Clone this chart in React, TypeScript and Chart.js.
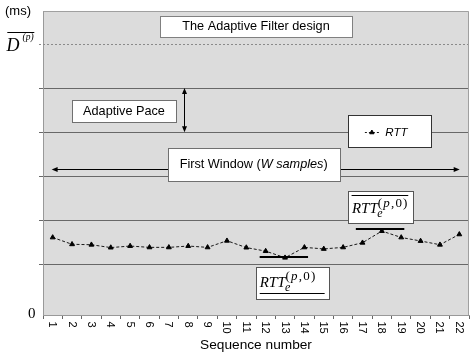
import React, { useEffect, useRef } from 'react';
import { Chart, registerables } from 'chart.js';

Chart.register(...registerables);

// ---------- data ----------
const categories = ['1', '2', '3', '4', '5', '6', '7', '8', '9', '10', '11', '12', '13', '14', '15', '16', '17', '18', '19', '20', '21', '22'];
const rttValues = [17.6, 16.05, 15.95, 15.3, 15.65, 15.35, 15.35, 15.65, 15.35, 16.85, 15.3, 14.5, 13.0, 15.35, 15.0, 15.35, 16.4, 19.05, 17.6, 16.8, 15.95, 18.3];
const gridLevels = [11.5, 21.5, 31.5, 41.5, 51.5];
const dLevel = 61.5;
const yMin = 0;
const yMax = 69;
const seriesName = 'RTT';
const xAxisTitle = 'Sequence number';
const yUnitLabel = '(ms)';
const zeroLabel = '0';
const titleText = 'The Adaptive Filter design';
const paceText = 'Adaptive Pace';
const windowTextRuns = [
  { text: 'First Window (', italic: false },
  { text: 'W samples', italic: true },
  { text: ')', italic: false },
];

// annotation geometry in data coordinates (x: category index, y: value)
const titleBox = { x0: 5.565, x1: 15.434, y0: 63.1, y1: 67.87 };
const paceBox = { x0: 0.991, x1: 6.372, y0: 43.87, y1: 48.8 };
const paceArrow = { x: 6.784, y0: 41.5, y1: 51.5 };
const windowBox = { x0: 5.941, x1: 14.818, y0: 30.41, y1: 37.84 };
const windowArrow = { y: 33.14, x0: -0.053, x1: 21.02 };
const legendBox = { x0: 15.245, x1: 19.562, y0: 38.13, y1: 45.39 };
const upperRttBox = { x0: 15.245, x1: 18.585, y0: 20.95, y1: 28.21 };
const upperSegment = { y: 19.52, x0: 15.656, x1: 18.159 };
const lowerRttBox = { x0: 10.485, x1: 14.288, y0: 3.56, y1: 10.83 };
const lowerSegment = { y: 13.23, x0: 10.69, x1: 13.188 };

const SANS = '"Liberation Sans", Arial, sans-serif';
const SERIF = '"Liberation Serif", "Times New Roman", serif';

function drawBox(ctx: CanvasRenderingContext2D, l: number, t: number, r: number, b: number, stroke: string) {
  const L = Math.round(l) + 0.5, T = Math.round(t) + 0.5, R = Math.round(r) + 0.5, B = Math.round(b) + 0.5;
  ctx.save();
  ctx.fillStyle = '#ffffff';
  ctx.fillRect(L, T, R - L, B - T);
  ctx.strokeStyle = stroke;
  ctx.lineWidth = 1;
  ctx.strokeRect(L, T, R - L, B - T);
  ctx.restore();
}

function arrowHead(ctx: CanvasRenderingContext2D, x: number, y: number, dx: number, dy: number) {
  const len = 6, hw = 2.5;
  const bx = x - dx * len, by = y - dy * len;
  ctx.beginPath();
  ctx.moveTo(x, y);
  ctx.lineTo(bx - dy * hw, by + dx * hw);
  ctx.lineTo(bx + dy * hw, by - dx * hw);
  ctx.closePath();
  ctx.fill();
}

function drawTriangle(ctx: CanvasRenderingContext2D, x: number, y: number, r: number) {
  const third = (Math.PI * 2) / 3;
  let a = 0;
  ctx.beginPath();
  ctx.moveTo(x + Math.sin(a) * r, y - Math.cos(a) * r);
  a += third;
  ctx.lineTo(x + Math.sin(a) * r, y - Math.cos(a) * r);
  a += third;
  ctx.lineTo(x + Math.sin(a) * r, y - Math.cos(a) * r);
  ctx.closePath();
  ctx.fill();
  ctx.stroke();
}

function drawRttLabel(ctx: CanvasRenderingContext2D, x: number, baseline: number) {
  ctx.save();
  ctx.fillStyle = '#000';
  ctx.textAlign = 'left';
  ctx.textBaseline = 'alphabetic';
  ctx.font = `italic 15px ${SERIF}`;
  ctx.fillText('RTT', x, baseline);
  const w = ctx.measureText('RTT').width;
  ctx.font = `italic 12px ${SERIF}`;
  ctx.fillText('e', x + w - 0.5, baseline + 4);
  let sx = x + w;
  const sb = baseline - 6.7;
  const runs = [
    { t: '(', f: `13px ${SERIF}` },
    { t: 'p', f: `italic 13px ${SERIF}` },
    { t: ',', f: `13px ${SERIF}` },
    { t: '0', f: `13px ${SERIF}` },
    { t: ')', f: `13px ${SERIF}` },
  ];
  for (const r of runs) {
    ctx.font = r.f;
    ctx.fillText(r.t, sx, sb);
    sx += ctx.measureText(r.t).width + 1.2;
  }
  ctx.restore();
}

export default function App() {
  const ref = useRef<HTMLCanvasElement>(null);

  useEffect(() => {
    const canvas = ref.current;
    if (!canvas) return;

    const annotations = {
      id: 'annotations',
      beforeDraw(chart: any) {
        const { ctx, chartArea: a } = chart;
        ctx.save();
        ctx.fillStyle = '#dcdcdc';
        ctx.fillRect(a.left, a.top, a.right - a.left, a.bottom - a.top);
        ctx.restore();
      },
      beforeDatasetsDraw(chart: any) {
        const { ctx, chartArea: a, scales } = chart;
        const py = (v: number) => scales.y.getPixelForValue(v);
        ctx.save();
        ctx.strokeStyle = '#8a8a8a';
        ctx.lineWidth = 1;
        ctx.setLineDash([2, 2]);
        const yd = Math.round(py(dLevel)) + 0.5;
        ctx.beginPath();
        ctx.moveTo(a.left - 4, yd);
        ctx.lineTo(a.right, yd);
        ctx.stroke();
        ctx.setLineDash([]);
        ctx.strokeStyle = '#a0a0a0';
        ctx.beginPath();
        ctx.moveTo(Math.round(a.left) + 0.5, Math.round(a.top) + 0.5);
        ctx.lineTo(Math.round(a.right) - 0.5, Math.round(a.top) + 0.5);
        ctx.lineTo(Math.round(a.right) - 0.5, Math.round(a.bottom));
        ctx.stroke();
        ctx.restore();
      },
      afterDatasetsDraw(chart: any) {
        const { ctx, scales } = chart;
        const px = (v: number) => scales.x.getPixelForValue(v);
        const py = (v: number) => scales.y.getPixelForValue(v);
        ctx.save();
        ctx.fillStyle = '#000';
        ctx.strokeStyle = '#000';
        ctx.lineWidth = 1;

        const ax = Math.round(px(paceArrow.x)) + 0.5;
        const ay0 = py(paceArrow.y1), ay1 = py(paceArrow.y0);
        ctx.beginPath();
        ctx.moveTo(ax, ay0 + 3);
        ctx.lineTo(ax, ay1 - 3);
        ctx.stroke();
        arrowHead(ctx, ax, ay0, 0, -1);
        arrowHead(ctx, ax, ay1, 0, 1);

        const wy = Math.round(py(windowArrow.y)) + 0.5;
        const wx0 = px(windowArrow.x0), wx1 = px(windowArrow.x1);
        ctx.beginPath();
        ctx.moveTo(wx0 + 3, wy);
        ctx.lineTo(wx1 - 3, wy);
        ctx.stroke();
        arrowHead(ctx, wx0, wy, -1, 0);
        arrowHead(ctx, wx1, wy, 1, 0);
        ctx.restore();

        const boxPx = (b: any) => ({ l: px(b.x0), r: px(b.x1), t: py(b.y1), b: py(b.y0) });

        const tb = boxPx(titleBox);
        drawBox(ctx, tb.l, tb.t, tb.r, tb.b, '#808080');
        ctx.save();
        ctx.fillStyle = '#000';
        ctx.font = `12.7px ${SANS}`;
        ctx.textAlign = 'center';
        ctx.textBaseline = 'middle';
        ctx.fillText(titleText, (tb.l + tb.r) / 2, (tb.t + tb.b) / 2 + 0.5);
        ctx.restore();

        const pb = boxPx(paceBox);
        drawBox(ctx, pb.l, pb.t, pb.r, pb.b, '#707070');
        ctx.save();
        ctx.fillStyle = '#000';
        ctx.font = `12.7px ${SANS}`;
        ctx.textAlign = 'center';
        ctx.textBaseline = 'middle';
        ctx.fillText(paceText, (pb.l + pb.r) / 2, (pb.t + pb.b) / 2 + 0.5);
        ctx.restore();

        const wb = boxPx(windowBox);
        drawBox(ctx, wb.l, wb.t, wb.r, wb.b, '#707070');
        ctx.save();
        ctx.fillStyle = '#000';
        ctx.textAlign = 'left';
        ctx.textBaseline = 'middle';
        let total = 0;
        for (const r of windowTextRuns) {
          ctx.font = `${r.italic ? 'italic ' : ''}12.7px ${SANS}`;
          total += ctx.measureText(r.text).width;
        }
        let cx = (wb.l + wb.r) / 2 - total / 2;
        const cy = (wb.t + wb.b) / 2;
        for (const r of windowTextRuns) {
          ctx.font = `${r.italic ? 'italic ' : ''}12.7px ${SANS}`;
          ctx.fillText(r.text, cx, cy);
          cx += ctx.measureText(r.text).width;
        }
        ctx.restore();

        const lb = boxPx(legendBox);
        drawBox(ctx, lb.l, lb.t, lb.r, lb.b, '#333333');
        ctx.save();
        const ly = Math.round((lb.t + lb.b) / 2 + 1) + 0.5;
        const lx = lb.l + 24;
        ctx.strokeStyle = '#1a1a1a';
        ctx.lineWidth = 1;
        ctx.setLineDash([2, 2]);
        ctx.beginPath();
        ctx.moveTo(lx - 7, ly);
        ctx.lineTo(lx + 7, ly);
        ctx.stroke();
        ctx.setLineDash([]);
        ctx.fillStyle = '#000';
        ctx.strokeStyle = '#000';
        drawTriangle(ctx, lx, ly, 2.5);
        ctx.font = `italic 11.5px ${SANS}`;
        ctx.textAlign = 'left';
        ctx.textBaseline = 'middle';
        ctx.fillText(seriesName, lb.l + 37.4, ly);
        ctx.restore();

        const ub = boxPx(upperRttBox);
        drawBox(ctx, ub.l, ub.t, ub.r, ub.b, '#555555');
        drawRttLabel(ctx, ub.l + 4, ub.t + 22.6);
        ctx.save();
        ctx.strokeStyle = '#000';
        ctx.lineWidth = 1;
        ctx.beginPath();
        const oy = Math.round(ub.t + 4.3) + 0.5;
        ctx.moveTo(ub.l + 3.7, oy);
        ctx.lineTo(ub.r - 4.3, oy);
        ctx.stroke();
        ctx.restore();

        const db = boxPx(lowerRttBox);
        drawBox(ctx, db.l, db.t, db.r, db.b, '#555555');
        drawRttLabel(ctx, db.l + 4, db.t + 19.7);
        ctx.save();
        ctx.strokeStyle = '#000';
        ctx.lineWidth = 1;
        ctx.beginPath();
        const uy = Math.round(db.t + 26) + 0.5;
        ctx.moveTo(db.l + 4, uy);
        ctx.lineTo(db.r - 4.7, uy);
        ctx.stroke();
        ctx.restore();

        ctx.save();
        ctx.strokeStyle = '#000';
        ctx.lineWidth = 2;
        for (const s of [upperSegment, lowerSegment]) {
          const y = Math.round(py(s.y));
          ctx.beginPath();
          ctx.moveTo(px(s.x0), y);
          ctx.lineTo(px(s.x1), y);
          ctx.stroke();
        }
        ctx.restore();
      },
      afterDraw(chart: any) {
        const { ctx, chartArea: a, scales } = chart;
        const px = (v: number) => scales.x.getPixelForValue(v);
        const py = (v: number) => scales.y.getPixelForValue(v);
        ctx.save();
        ctx.fillStyle = '#000';
        ctx.font = `11px ${SANS}`;
        ctx.textAlign = 'left';
        ctx.textBaseline = 'middle';
        categories.forEach((c, i) => {
          ctx.save();
          ctx.translate(px(i) - 0.5, a.bottom + 6.5);
          ctx.rotate(Math.PI / 2);
          ctx.fillText(c, 0, 0);
          ctx.restore();
        });
        ctx.font = `15px ${SERIF}`;
        ctx.textAlign = 'right';
        ctx.textBaseline = 'middle';
        ctx.fillText(zeroLabel, a.left - 7.5, py(yMin) - 0.5);
        ctx.font = `13px ${SANS}`;
        ctx.textAlign = 'left';
        ctx.textBaseline = 'middle';
        ctx.fillText(yUnitLabel, 5, a.top + 0.8);
        const yd = py(dLevel);
        ctx.textBaseline = 'alphabetic';
        ctx.font = `italic 18px ${SERIF}`;
        ctx.fillText('D', 6.5, yd + 7);
        ctx.font = `italic 9.5px ${SERIF}`;
        ctx.fillText('(p)', 22.5, yd - 4.2);
        ctx.strokeStyle = '#000';
        ctx.lineWidth = 1;
        ctx.beginPath();
        ctx.moveTo(7.3, Math.round(yd - 12.5) + 0.5);
        ctx.lineTo(34.3, Math.round(yd - 12.5) + 0.5);
        ctx.stroke();
        ctx.restore();
      },
    };

    const chart = new Chart(canvas, {
      type: 'line',
      data: {
        labels: categories,
        datasets: [
          {
            label: seriesName,
            data: rttValues,
            borderColor: '#1a1a1a',
            borderWidth: 1,
            borderDash: [3, 2],
            pointStyle: 'triangle',
            pointRadius: 2.8,
            pointBackgroundColor: '#000',
            pointBorderColor: '#000',
            pointBorderWidth: 1,
            fill: false,
            tension: 0,
          },
        ],
      },
      options: {
        responsive: false,
        animation: false,
        events: [],
        layout: { padding: { left: 39, top: 11, right: 3, bottom: 0 } },
        plugins: {
          legend: { display: false },
          tooltip: { enabled: false },
        },
        scales: {
          x: {
            type: 'category',
            offset: true,
            grid: {
              display: true,
              offset: true,
              drawOnChartArea: false,
              drawTicks: true,
              tickLength: 4,
              color: '#666',
              tickColor: '#666',
            },
            border: { display: true, color: '#999' },
            ticks: { display: false },
            title: {
              display: true,
              text: xAxisTitle,
              color: '#000',
              font: { family: SANS, size: 13.7 },
              padding: { top: 17.78, bottom: 0.78 },
            },
          },
          y: {
            type: 'linear',
            min: yMin,
            max: yMax,
            afterBuildTicks: (axis: any) => {
              axis.ticks = gridLevels.map((v) => ({ value: v }));
            },
            grid: {
              color: '#686868',
              tickColor: '#686868',
              tickLength: 4,
              drawTicks: true,
            },
            border: { display: true, color: '#999' },
            ticks: { display: false },
          },
        },
      },
      plugins: [annotations],
    } as any);

    return () => chart.destroy();
  }, []);

  return (
    <div style={{ position: 'absolute', left: 0, top: 0, width: 474, height: 354, background: '#fff' }}>
      <canvas ref={ref} width={474} height={354} style={{ display: 'block', width: 474, height: 354 }} />
    </div>
  );
}
